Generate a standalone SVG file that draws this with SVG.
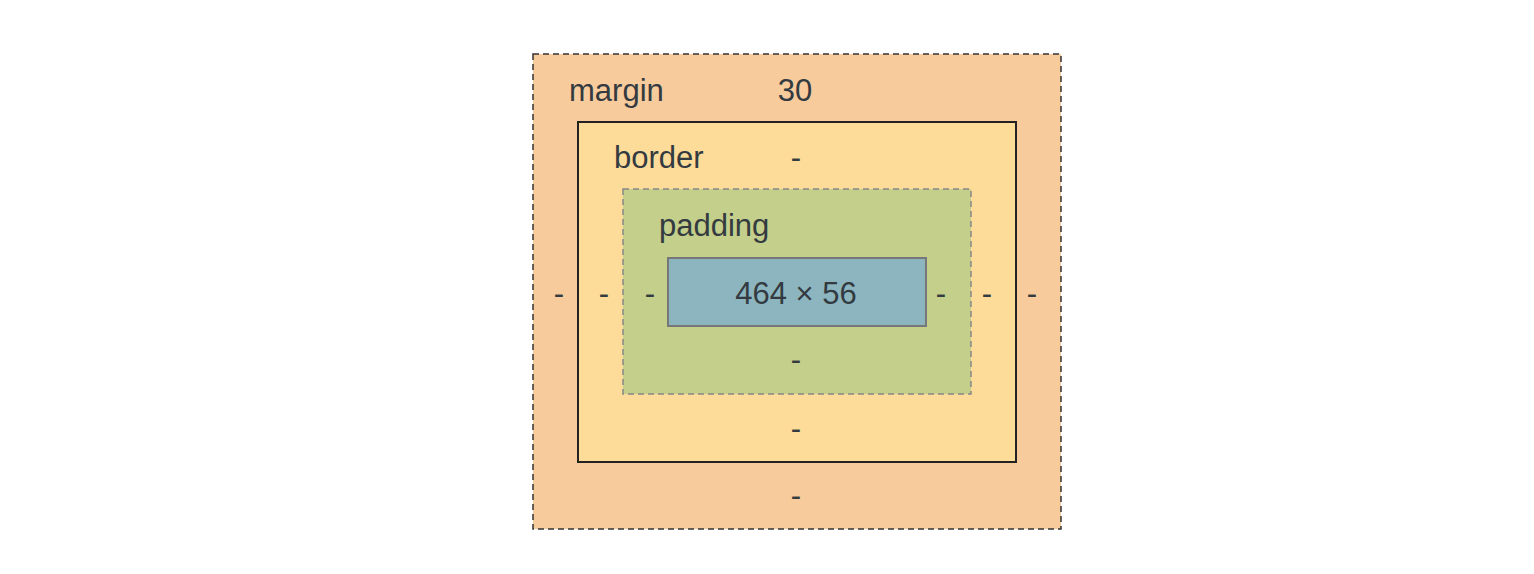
<svg xmlns="http://www.w3.org/2000/svg" width="1534" height="574" viewBox="0 0 1534 574">
<style>
text{font-family:"Liberation Sans",Arial,sans-serif;font-size:31px;fill:#333a40}
.c{text-anchor:middle}
</style>
<rect width="1534" height="574" fill="#fff"/>
<g id="margin"><rect x="533" y="54" width="528" height="475" fill="#f8cb9c" stroke="#333" stroke-width="1.5" stroke-dasharray="6,4"/>
<text x="569" y="101">margin</text><text class="c" x="795" y="101">30</text>
<text class="c" x="559" y="304">-</text><text class="c" x="1032" y="304">-</text><text class="c" x="796" y="506">-</text></g>
<g id="border"><rect x="578" y="122" width="438" height="340" fill="#fddc9a" stroke="#222" stroke-width="2"/>
<text x="614" y="168">border</text><text class="c" x="796" y="168">-</text>
<text class="c" x="604" y="304">-</text><text class="c" x="987" y="304">-</text><text class="c" x="796" y="439">-</text></g>
<g id="padding"><rect x="623" y="189" width="348" height="205" fill="#c3cf8a" stroke="#888" stroke-width="1.5" stroke-dasharray="6,4"/>
<text x="659" y="236">padding</text>
<text class="c" x="650" y="304">-</text><text class="c" x="941" y="304">-</text><text class="c" x="796" y="370">-</text></g>
<g id="content"><rect x="668" y="258" width="258" height="68" fill="#8cb5bf" stroke="#777" stroke-width="2"/>
<text class="c" x="796" y="304">464 × 56</text></g>
<g id="connectors"/>
</svg>
